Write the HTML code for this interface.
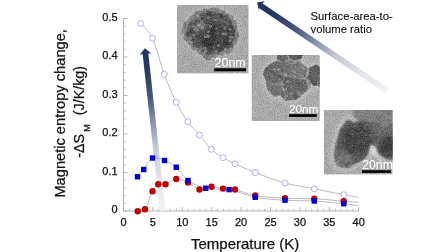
<!DOCTYPE html><html><head><meta charset="utf-8"><title>Magnetic entropy change</title>
<style>html,body{margin:0;padding:0;background:#fff;overflow:hidden}svg{display:block}text{font-family:"Liberation Sans",Arial,sans-serif;fill:#111;stroke:#111;stroke-width:0.25px}</style></head><body>
<svg width="448" height="252" viewBox="0 0 448 252">
<defs>
<linearGradient id="g1" gradientUnits="userSpaceOnUse" x1="144.9" y1="48.4" x2="162.7" y2="211"><stop offset="0" stop-color="#1f3460"/><stop offset="0.15" stop-color="#283a67"/><stop offset="0.3" stop-color="#48577d"/><stop offset="0.45" stop-color="#8891ab"/><stop offset="0.6" stop-color="#c2c7d5"/><stop offset="0.8" stop-color="#e2e5ec"/><stop offset="1" stop-color="#f1f2f6"/></linearGradient>
<linearGradient id="g2" gradientUnits="userSpaceOnUse" x1="256.9" y1="2.5" x2="387.6" y2="90.6"><stop offset="0" stop-color="#1f3460"/><stop offset="0.15" stop-color="#283a67"/><stop offset="0.3" stop-color="#48577d"/><stop offset="0.45" stop-color="#8891ab"/><stop offset="0.6" stop-color="#c2c7d5"/><stop offset="0.8" stop-color="#e2e5ec"/><stop offset="1" stop-color="#f1f2f6"/></linearGradient>
<filter id="noise" x="0" y="0" width="100%" height="100%"><feTurbulence type="fractalNoise" baseFrequency="1.1" numOctaves="2" seed="3" result="t"/><feColorMatrix in="t" type="matrix" values="0 0 0 0 0  0 0 0 0 0  0 0 0 0 0  1.6 1.6 0 0 -1.1"/><feGaussianBlur stdDeviation="0.35"/></filter>
<filter id="noisew" x="0" y="0" width="100%" height="100%"><feTurbulence type="fractalNoise" baseFrequency="1.1" numOctaves="2" seed="11" result="t"/><feColorMatrix in="t" type="matrix" values="0 0 0 0 1  0 0 0 0 1  0 0 0 0 1  1.6 0 1.6 0 -1.1"/><feGaussianBlur stdDeviation="0.35"/></filter>
<filter id="mott" x="-10%" y="-10%" width="120%" height="120%"><feTurbulence type="fractalNoise" baseFrequency="0.22" numOctaves="2" seed="5" result="t"/><feDisplacementMap in="SourceGraphic" in2="t" scale="5" xChannelSelector="R" yChannelSelector="G" result="d"/><feGaussianBlur in="d" stdDeviation="0.9"/></filter>
<filter id="b05" x="-10%" y="-10%" width="120%" height="120%"><feGaussianBlur stdDeviation="0.6"/></filter>
<filter id="b07" x="-10%" y="-10%" width="120%" height="120%"><feGaussianBlur stdDeviation="0.7"/></filter>
<filter id="b08" x="-10%" y="-10%" width="120%" height="120%"><feGaussianBlur stdDeviation="0.8"/></filter>
<filter id="b1" x="-20%" y="-20%" width="140%" height="140%"><feGaussianBlur stdDeviation="1.2"/></filter>
<filter id="b2" x="-20%" y="-20%" width="140%" height="140%"><feGaussianBlur stdDeviation="2.2"/></filter>
<clipPath id="c1"><rect x="177" y="5" width="71.6" height="68.5"/></clipPath>
<clipPath id="c2"><rect x="251.6" y="55" width="68.2" height="66"/></clipPath>
<clipPath id="c3"><rect x="323.8" y="110" width="68.8" height="64.6"/></clipPath>
</defs>
<rect width="448" height="252" fill="#fff"/>
<g stroke="#b4b4b4" stroke-width="1" fill="none" shape-rendering="auto">
<path d="M123.50 18.00 V211.00 H359.20"/>
<path d="M123.50 211.00 h4.0M123.50 203.30 h2.2M123.50 195.60 h2.2M123.50 187.90 h2.2M123.50 180.20 h2.2M123.50 172.50 h4.0M123.50 164.80 h2.2M123.50 157.10 h2.2M123.50 149.40 h2.2M123.50 141.70 h2.2M123.50 134.00 h4.0M123.50 126.30 h2.2M123.50 118.60 h2.2M123.50 110.90 h2.2M123.50 103.20 h2.2M123.50 95.50 h4.0M123.50 87.80 h2.2M123.50 80.10 h2.2M123.50 72.40 h2.2M123.50 64.70 h2.2M123.50 57.00 h4.0M123.50 49.30 h2.2M123.50 41.60 h2.2M123.50 33.90 h2.2M123.50 26.20 h2.2M123.50 18.50 h4.0M123.50 211.00 v-4.0M129.38 211.00 v-2.2M135.26 211.00 v-2.2M141.14 211.00 v-2.2M147.02 211.00 v-2.2M152.90 211.00 v-4.0M158.78 211.00 v-2.2M164.66 211.00 v-2.2M170.54 211.00 v-2.2M176.42 211.00 v-2.2M182.30 211.00 v-4.0M188.18 211.00 v-2.2M194.06 211.00 v-2.2M199.94 211.00 v-2.2M205.82 211.00 v-2.2M211.70 211.00 v-4.0M217.58 211.00 v-2.2M223.46 211.00 v-2.2M229.34 211.00 v-2.2M235.22 211.00 v-2.2M241.10 211.00 v-4.0M246.98 211.00 v-2.2M252.86 211.00 v-2.2M258.74 211.00 v-2.2M264.62 211.00 v-2.2M270.50 211.00 v-4.0M276.38 211.00 v-2.2M282.26 211.00 v-2.2M288.14 211.00 v-2.2M294.02 211.00 v-2.2M299.90 211.00 v-4.0M305.78 211.00 v-2.2M311.66 211.00 v-2.2M317.54 211.00 v-2.2M323.42 211.00 v-2.2M329.30 211.00 v-4.0M335.18 211.00 v-2.2M341.06 211.00 v-2.2M346.94 211.00 v-2.2M352.82 211.00 v-2.2M358.70 211.00 v-4.0"/>
</g>
<g font-size="11" text-anchor="end">
<text x="117.6" y="213.30">0</text>
<text x="117.6" y="174.80">0.1</text>
<text x="117.6" y="136.30">0.2</text>
<text x="117.6" y="97.80">0.3</text>
<text x="117.6" y="59.30">0.4</text>
<text x="117.6" y="20.80">0.5</text>
</g>
<g font-size="11" text-anchor="middle">
<text x="123.50" y="226.2">0</text>
<text x="152.90" y="226.2">5</text>
<text x="182.30" y="226.2">10</text>
<text x="211.70" y="226.2">15</text>
<text x="241.10" y="226.2">20</text>
<text x="270.50" y="226.2">25</text>
<text x="299.90" y="226.2">30</text>
<text x="329.30" y="226.2">35</text>
<text x="358.70" y="226.2">40</text>
</g>
<text x="191" y="248.9" font-size="15">Temperature (K)</text>
<text transform="translate(65.4 197.6) rotate(-90)" font-size="14.65">Magnetic entropy change,</text>
<text transform="translate(83.8 157.8) rotate(-90)" font-size="14.3"><tspan x="0">-ΔS</tspan><tspan x="26" dy="6.3" font-size="9">M</tspan><tspan x="42.6" dy="-6.3">(J/K/kg)</tspan></text>
<clipPath id="p1c"><polygon points="214.0,9.0 224.0,11.0 232.0,17.0 237.0,25.0 238.0,33.0 236.5,41.0 231.0,51.0 222.0,54.5 215.0,55.5 208.0,58.5 203.0,56.0 196.0,50.0 189.0,44.0 185.0,38.0 183.4,31.5 185.0,24.0 190.0,17.0 197.0,12.5 205.0,10.0"/></clipPath>
<g clip-path="url(#c1)">
<rect x="177.0" y="5.0" width="71.6" height="68.5" fill="#b2b2b2"/>
<polygon points="214.0,9.0 224.0,11.0 232.0,17.0 237.0,25.0 238.0,33.0 236.5,41.0 231.0,51.0 222.0,54.5 215.0,55.5 208.0,58.5 203.0,56.0 196.0,50.0 189.0,44.0 185.0,38.0 183.4,31.5 185.0,24.0 190.0,17.0 197.0,12.5 205.0,10.0" fill="#c8c8c8" stroke="#c8c8c8" stroke-width="4" stroke-linejoin="round" filter="url(#b2)"/>
<g filter="url(#b05)">
<circle cx="213.9" cy="9.8" r="2.6" fill="#8a8a8a"/><circle cx="216.9" cy="11.1" r="3.0" fill="#7d7d7d"/><circle cx="220.1" cy="11.7" r="2.2" fill="#909090"/><circle cx="223.2" cy="12.3" r="2.0" fill="#707070"/><circle cx="225.2" cy="14.8" r="2.1" fill="#8b8b8b"/><circle cx="227.8" cy="16.4" r="2.9" fill="#7e7e7e"/><circle cx="230.5" cy="18.1" r="3.0" fill="#8b8b8b"/><circle cx="232.0" cy="20.7" r="2.6" fill="#8a8a8a"/><circle cx="234.8" cy="22.6" r="2.5" fill="#858585"/><circle cx="235.2" cy="25.6" r="2.0" fill="#878787"/><circle cx="235.4" cy="28.1" r="2.1" fill="#757575"/><circle cx="235.3" cy="30.6" r="2.2" fill="#8d8d8d"/><circle cx="236.0" cy="33.0" r="2.5" fill="#898989"/><circle cx="236.6" cy="35.6" r="2.5" fill="#727272"/><circle cx="234.9" cy="38.0" r="2.8" fill="#747474"/><circle cx="235.6" cy="40.8" r="2.1" fill="#747474"/><circle cx="233.8" cy="43.0" r="2.2" fill="#888888"/><circle cx="231.7" cy="44.9" r="2.4" fill="#929292"/><circle cx="231.4" cy="47.8" r="2.5" fill="#8c8c8c"/><circle cx="230.1" cy="50.3" r="2.4" fill="#8f8f8f"/><circle cx="227.6" cy="51.8" r="2.2" fill="#757575"/><circle cx="223.8" cy="51.8" r="2.0" fill="#8f8f8f"/><circle cx="221.7" cy="53.9" r="2.2" fill="#919191"/><circle cx="217.9" cy="53.4" r="2.2" fill="#777777"/><circle cx="214.8" cy="54.7" r="2.8" fill="#868686"/><circle cx="211.4" cy="55.8" r="2.2" fill="#838383"/><circle cx="208.1" cy="57.7" r="2.8" fill="#7b7b7b"/><circle cx="205.7" cy="56.0" r="2.7" fill="#727272"/><circle cx="203.7" cy="53.8" r="2.4" fill="#7f7f7f"/><circle cx="201.7" cy="51.7" r="2.9" fill="#707070"/><circle cx="199.1" cy="50.8" r="2.7" fill="#888888"/><circle cx="197.5" cy="48.2" r="2.2" fill="#7f7f7f"/><circle cx="194.1" cy="47.6" r="2.8" fill="#8a8a8a"/><circle cx="192.6" cy="45.2" r="2.1" fill="#828282"/><circle cx="189.9" cy="43.6" r="2.0" fill="#828282"/><circle cx="187.9" cy="40.7" r="2.1" fill="#898989"/><circle cx="186.2" cy="37.8" r="3.0" fill="#797979"/><circle cx="186.2" cy="34.7" r="2.0" fill="#8e8e8e"/><circle cx="184.2" cy="31.6" r="2.9" fill="#919191"/><circle cx="185.6" cy="28.1" r="2.9" fill="#7d7d7d"/><circle cx="186.1" cy="24.4" r="2.9" fill="#797979"/><circle cx="188.2" cy="22.4" r="2.5" fill="#8b8b8b"/><circle cx="190.3" cy="20.6" r="2.3" fill="#8e8e8e"/><circle cx="191.2" cy="18.0" r="2.1" fill="#818181"/><circle cx="193.7" cy="16.9" r="2.7" fill="#888888"/><circle cx="196.2" cy="15.9" r="2.3" fill="#717171"/><circle cx="197.6" cy="13.5" r="2.9" fill="#7f7f7f"/><circle cx="200.4" cy="13.2" r="2.7" fill="#808080"/><circle cx="203.0" cy="12.7" r="2.1" fill="#787878"/><circle cx="205.1" cy="10.7" r="2.2" fill="#767676"/><circle cx="208.2" cy="11.4" r="2.1" fill="#797979"/><circle cx="211.0" cy="10.1" r="2.1" fill="#828282"/>
<polygon points="213.5,12.0 222.3,13.7 229.4,19.0 233.8,26.0 234.6,33.1 233.3,40.1 228.5,48.9 220.6,52.0 214.4,52.9 208.2,55.5 203.8,53.3 197.7,48.0 191.5,42.8 188.0,37.5 186.6,31.8 188.0,25.2 192.4,19.0 198.6,15.0 205.6,12.8" fill="#505050"/>
</g>
<g clip-path="url(#p1c)"><ellipse cx="215" cy="37" rx="16" ry="14" fill="#2e2e2e" filter="url(#b2)" opacity="0.85"/><ellipse cx="197" cy="24" rx="9" ry="8" fill="#8a8a8a" filter="url(#b2)" opacity="0.7"/><ellipse cx="226" cy="18" rx="7" ry="5" fill="#808080" filter="url(#b2)" opacity="0.6"/></g>
<g filter="url(#b05)">
<g opacity="0.60"><circle cx="202.2" cy="18.5" r="1.6" fill="#1a1a1a"/><circle cx="212.3" cy="27.9" r="2.9" fill="#1b1b1b"/><circle cx="206.7" cy="22.4" r="2.1" fill="#5a5a5a"/><circle cx="226.3" cy="17.3" r="2.4" fill="#303030"/><circle cx="214.6" cy="14.6" r="1.6" fill="#464646"/><circle cx="197.2" cy="36.2" r="1.9" fill="#252525"/><circle cx="201.4" cy="47.5" r="1.7" fill="#2b2b2b"/><circle cx="214.0" cy="20.1" r="2.3" fill="#202020"/><circle cx="196.5" cy="41.6" r="2.7" fill="#4a4a4a"/><circle cx="209.0" cy="52.2" r="1.9" fill="#424242"/><circle cx="224.8" cy="42.4" r="1.6" fill="#333333"/><circle cx="201.0" cy="33.5" r="2.6" fill="#3f3f3f"/><circle cx="192.3" cy="30.2" r="1.7" fill="#3f3f3f"/><circle cx="210.1" cy="13.7" r="2.6" fill="#1d1d1d"/><circle cx="214.1" cy="50.1" r="2.0" fill="#3c3c3c"/><circle cx="203.4" cy="33.6" r="1.6" fill="#4e4e4e"/><circle cx="191.1" cy="23.7" r="1.6" fill="#1c1c1c"/><circle cx="220.3" cy="40.1" r="1.9" fill="#4d4d4d"/><circle cx="205.1" cy="41.1" r="2.9" fill="#161616"/><circle cx="203.7" cy="38.6" r="1.6" fill="#535353"/><circle cx="223.5" cy="17.6" r="2.1" fill="#333333"/><circle cx="230.6" cy="33.6" r="2.2" fill="#292929"/><circle cx="213.0" cy="50.4" r="2.8" fill="#4b4b4b"/><circle cx="200.0" cy="30.0" r="2.5" fill="#414141"/><circle cx="204.9" cy="22.0" r="1.8" fill="#1e1e1e"/><circle cx="197.7" cy="22.1" r="2.7" fill="#525252"/><circle cx="195.4" cy="24.2" r="2.1" fill="#262626"/><circle cx="204.3" cy="36.6" r="2.5" fill="#242424"/><circle cx="211.4" cy="38.9" r="2.2" fill="#1a1a1a"/><circle cx="219.3" cy="36.3" r="2.1" fill="#464646"/><circle cx="191.6" cy="39.6" r="1.8" fill="#1b1b1b"/><circle cx="233.9" cy="31.1" r="2.0" fill="#222222"/><circle cx="228.6" cy="38.7" r="2.5" fill="#272727"/><circle cx="232.5" cy="38.2" r="1.7" fill="#505050"/><circle cx="209.0" cy="33.0" r="1.7" fill="#1e1e1e"/><circle cx="222.6" cy="44.2" r="2.7" fill="#515151"/><circle cx="232.3" cy="35.0" r="2.5" fill="#262626"/><circle cx="230.5" cy="45.0" r="3.0" fill="#3a3a3a"/><circle cx="228.1" cy="42.3" r="2.3" fill="#353535"/><circle cx="230.2" cy="27.4" r="2.3" fill="#303030"/><circle cx="224.0" cy="26.3" r="2.4" fill="#303030"/><circle cx="224.5" cy="45.0" r="2.7" fill="#2c2c2c"/><circle cx="225.9" cy="44.2" r="1.8" fill="#313131"/><circle cx="210.3" cy="43.8" r="2.7" fill="#171717"/><circle cx="209.3" cy="20.4" r="2.2" fill="#404040"/><circle cx="232.5" cy="27.8" r="1.7" fill="#303030"/><circle cx="209.2" cy="26.7" r="2.4" fill="#515151"/><circle cx="209.6" cy="40.4" r="2.8" fill="#1e1e1e"/><circle cx="192.4" cy="28.9" r="2.2" fill="#2d2d2d"/><circle cx="202.6" cy="46.8" r="2.2" fill="#464646"/><circle cx="222.3" cy="15.7" r="1.8" fill="#282828"/><circle cx="203.4" cy="35.9" r="1.5" fill="#242424"/><circle cx="225.0" cy="43.6" r="2.3" fill="#212121"/><circle cx="231.5" cy="30.8" r="2.7" fill="#2c2c2c"/><circle cx="196.7" cy="22.9" r="2.3" fill="#393939"/><circle cx="223.3" cy="26.2" r="2.1" fill="#595959"/><circle cx="203.6" cy="31.9" r="2.1" fill="#565656"/><circle cx="230.7" cy="33.8" r="1.7" fill="#585858"/><circle cx="211.1" cy="50.0" r="2.4" fill="#2b2b2b"/><circle cx="223.9" cy="18.5" r="2.2" fill="#262626"/><circle cx="221.4" cy="36.2" r="2.5" fill="#3d3d3d"/><circle cx="212.1" cy="33.0" r="2.8" fill="#212121"/><circle cx="208.3" cy="13.2" r="2.2" fill="#1c1c1c"/><circle cx="216.0" cy="34.0" r="1.8" fill="#555555"/><circle cx="199.9" cy="34.1" r="2.3" fill="#515151"/><circle cx="198.5" cy="34.7" r="2.9" fill="#353535"/><circle cx="229.5" cy="20.8" r="1.7" fill="#4d4d4d"/><circle cx="192.4" cy="31.2" r="2.5" fill="#1d1d1d"/><circle cx="207.2" cy="21.2" r="2.7" fill="#3a3a3a"/><circle cx="221.0" cy="40.7" r="1.9" fill="#262626"/><circle cx="193.2" cy="32.3" r="2.1" fill="#202020"/><circle cx="226.6" cy="19.0" r="3.0" fill="#4b4b4b"/><circle cx="206.0" cy="30.3" r="2.0" fill="#414141"/><circle cx="213.2" cy="31.1" r="2.1" fill="#161616"/><circle cx="211.5" cy="24.8" r="1.7" fill="#1c1c1c"/><circle cx="230.7" cy="21.9" r="1.6" fill="#212121"/><circle cx="195.3" cy="44.9" r="2.8" fill="#4a4a4a"/><circle cx="206.1" cy="35.3" r="2.4" fill="#555555"/><circle cx="220.3" cy="15.8" r="2.7" fill="#1b1b1b"/><circle cx="190.9" cy="23.3" r="1.6" fill="#303030"/><circle cx="228.1" cy="31.7" r="3.0" fill="#3f3f3f"/><circle cx="206.7" cy="51.8" r="1.6" fill="#242424"/><circle cx="216.8" cy="35.1" r="1.9" fill="#2e2e2e"/><circle cx="210.6" cy="19.7" r="2.7" fill="#404040"/><circle cx="187.5" cy="34.0" r="2.3" fill="#2c2c2c"/><circle cx="198.4" cy="31.4" r="2.5" fill="#4b4b4b"/><circle cx="212.8" cy="50.7" r="2.0" fill="#545454"/><circle cx="196.9" cy="22.0" r="2.7" fill="#2d2d2d"/><circle cx="220.6" cy="39.7" r="3.0" fill="#474747"/><circle cx="228.9" cy="30.7" r="1.6" fill="#1b1b1b"/></g>
<g opacity="0.60"><circle cx="192.7" cy="42.7" r="1.0" fill="#919191"/><circle cx="225.6" cy="34.0" r="1.5" fill="#a5a5a5"/><circle cx="208.7" cy="31.7" r="1.4" fill="#ababab"/><circle cx="229.7" cy="29.5" r="1.1" fill="#ababab"/><circle cx="206.2" cy="51.2" r="1.6" fill="#a4a4a4"/><circle cx="218.5" cy="16.2" r="1.0" fill="#c0c0c0"/><circle cx="216.4" cy="28.4" r="1.0" fill="#b6b6b6"/><circle cx="197.9" cy="15.7" r="1.5" fill="#c5c5c5"/><circle cx="229.9" cy="37.3" r="1.4" fill="#959595"/><circle cx="212.5" cy="13.6" r="1.1" fill="#b8b8b8"/><circle cx="232.1" cy="37.2" r="1.4" fill="#bababa"/><circle cx="208.0" cy="36.2" r="1.7" fill="#c2c2c2"/><circle cx="191.3" cy="42.0" r="1.2" fill="#b8b8b8"/><circle cx="217.5" cy="33.5" r="1.1" fill="#b3b3b3"/><circle cx="193.8" cy="35.0" r="1.5" fill="#acacac"/><circle cx="225.4" cy="49.3" r="1.5" fill="#c6c6c6"/><circle cx="197.2" cy="22.6" r="1.2" fill="#8c8c8c"/><circle cx="198.8" cy="24.9" r="1.7" fill="#b9b9b9"/><circle cx="195.0" cy="29.2" r="1.7" fill="#969696"/><circle cx="204.9" cy="48.4" r="1.3" fill="#b0b0b0"/><circle cx="197.7" cy="29.8" r="1.3" fill="#a8a8a8"/><circle cx="218.5" cy="45.2" r="1.2" fill="#adadad"/><circle cx="225.4" cy="33.9" r="1.0" fill="#b9b9b9"/><circle cx="215.6" cy="20.2" r="1.0" fill="#c6c6c6"/><circle cx="205.2" cy="36.9" r="1.2" fill="#bbbbbb"/><circle cx="202.2" cy="27.9" r="1.7" fill="#b5b5b5"/><circle cx="214.5" cy="19.7" r="1.3" fill="#a7a7a7"/><circle cx="190.6" cy="38.3" r="1.6" fill="#ababab"/><circle cx="224.6" cy="28.6" r="1.4" fill="#929292"/><circle cx="208.3" cy="17.5" r="1.4" fill="#a8a8a8"/><circle cx="213.7" cy="47.5" r="1.1" fill="#a9a9a9"/><circle cx="196.1" cy="31.4" r="1.1" fill="#929292"/><circle cx="230.2" cy="40.5" r="1.3" fill="#c1c1c1"/><circle cx="222.9" cy="33.8" r="1.4" fill="#b9b9b9"/><circle cx="210.7" cy="26.1" r="1.6" fill="#a4a4a4"/><circle cx="216.1" cy="51.5" r="1.2" fill="#bbbbbb"/><circle cx="230.2" cy="29.5" r="1.2" fill="#b4b4b4"/><circle cx="204.3" cy="53.0" r="1.2" fill="#c2c2c2"/><circle cx="201.1" cy="48.2" r="1.6" fill="#a2a2a2"/><circle cx="200.8" cy="48.8" r="1.3" fill="#989898"/></g>
</g>
<rect x="177.0" y="5.0" width="71.6" height="68.5" fill="#000" filter="url(#noise)" opacity="0.21"/>
<rect x="177.0" y="5.0" width="71.6" height="68.5" fill="#fff" filter="url(#noisew)" opacity="0.21"/>
</g>
<g clip-path="url(#c2)">
<rect x="251.6" y="55.0" width="68.2" height="66.0" fill="#b4b4b4"/>
<polygon points="263.5,74.0 265.8,68.8 274.4,61.8 278.0,59.0 277.6,55.6 286.0,54.8 302.6,54.8 301.0,58.0 301.0,63.4 306.5,68.0 309.6,68.0 316.6,65.0 320.5,68.0 320.5,85.3 311.2,85.0 308.8,90.0 301.0,95.5 296.3,99.4 285.4,100.2 280.7,95.5 274.4,97.0 267.4,89.3 266.0,82.0" fill="#d2d2d2" stroke="#d2d2d2" stroke-width="5" stroke-linejoin="round" filter="url(#b2)"/>
<g filter="url(#b07)"><polygon points="263.5,74.0 265.8,68.8 274.4,61.8 278.0,59.0 277.6,55.6 286.0,54.8 302.6,54.8 301.0,58.0 301.0,63.4 306.5,68.0 309.6,68.0 316.6,65.0 320.5,68.0 320.5,85.3 311.2,85.0 308.8,90.0 301.0,95.5 296.3,99.4 285.4,100.2 280.7,95.5 274.4,97.0 267.4,89.3 266.0,82.0" fill="#9c9c9c"/>
<polygon points="265.8,68.8 274.4,61.8 284.6,62.6 287.7,69.6 284.6,77.4 274.4,83.7 266.6,80.6 263.5,74.3" fill="#6c6c6c" stroke="#6c6c6c" stroke-width="1.1" stroke-linejoin="round"/>
<polygon points="277.6,55.6 286.2,54.8 287.7,58.7 282.3,61.0 277.6,58.7" fill="#606060" stroke="#606060" stroke-width="1.1" stroke-linejoin="round"/>
<polygon points="289.3,54.8 302.6,54.8 301.0,57.9 294.8,59.5 290.0,57.9" fill="#505050" stroke="#505050" stroke-width="1.1" stroke-linejoin="round"/>
<polygon points="294.0,65.0 301.0,63.4 306.5,68.0 305.7,75.9 297.9,77.4 293.2,72.8" fill="#747474" stroke="#747474" stroke-width="1.1" stroke-linejoin="round"/>
<polygon points="309.6,68.0 316.6,65.0 320.5,68.0 320.5,85.3 313.5,85.3 308.8,77.4" fill="#5e5e5e" stroke="#5e5e5e" stroke-width="1.1" stroke-linejoin="round"/>
<polygon points="287.0,77.4 298.0,79.0 305.7,80.6 307.3,88.4 298.0,93.0 285.4,91.5 282.3,83.7" fill="#646464" stroke="#646464" stroke-width="1.1" stroke-linejoin="round"/>
<polygon points="266.6,82.1 276.0,85.3 282.3,85.3 280.7,93.0 274.4,96.0 267.4,89.3" fill="#727272" stroke="#727272" stroke-width="1.1" stroke-linejoin="round"/>
<polygon points="282.0,92.0 298.0,93.5 301.0,95.5 296.3,99.4 285.4,100.2 281.0,95.5" fill="#6e6e6e" stroke="#6e6e6e" stroke-width="1.1" stroke-linejoin="round"/>
<polygon points="286.0,62.0 293.0,61.0 294.0,66.0 292.0,74.0 288.0,76.0 287.0,69.0" fill="#787878" stroke="#787878" stroke-width="1.1" stroke-linejoin="round"/>
<g opacity="0.36"><circle cx="277.1" cy="79.5" r="2.3" fill="#4d4d4d"/><circle cx="290.5" cy="81.2" r="2.3" fill="#1f1f1f"/><circle cx="290.2" cy="79.8" r="2.4" fill="#363636"/><circle cx="290.3" cy="92.8" r="1.7" fill="#5a5a5a"/><circle cx="285.7" cy="55.5" r="1.4" fill="#262626"/><circle cx="278.9" cy="81.8" r="2.1" fill="#4f4f4f"/><circle cx="316.0" cy="72.7" r="2.4" fill="#565656"/><circle cx="271.1" cy="71.4" r="1.4" fill="#222222"/><circle cx="288.4" cy="83.2" r="1.7" fill="#444444"/><circle cx="311.0" cy="80.9" r="1.9" fill="#626262"/><circle cx="296.8" cy="95.9" r="2.2" fill="#212121"/><circle cx="320.0" cy="85.3" r="2.0" fill="#323232"/><circle cx="282.1" cy="79.4" r="2.1" fill="#2b2b2b"/><circle cx="275.5" cy="92.6" r="1.5" fill="#404040"/><circle cx="309.1" cy="73.4" r="1.2" fill="#313131"/><circle cx="287.8" cy="73.6" r="1.3" fill="#2d2d2d"/><circle cx="298.5" cy="56.8" r="1.9" fill="#484848"/><circle cx="316.0" cy="67.5" r="2.4" fill="#3c3c3c"/><circle cx="281.2" cy="58.3" r="1.2" fill="#626262"/><circle cx="274.8" cy="73.3" r="1.4" fill="#3f3f3f"/><circle cx="314.6" cy="72.0" r="2.2" fill="#585858"/><circle cx="285.5" cy="94.2" r="1.9" fill="#2b2b2b"/><circle cx="317.1" cy="77.8" r="2.0" fill="#555555"/><circle cx="288.4" cy="66.5" r="1.9" fill="#444444"/><circle cx="264.2" cy="73.7" r="1.2" fill="#464646"/><circle cx="298.6" cy="83.5" r="2.0" fill="#252525"/><circle cx="282.4" cy="70.8" r="1.9" fill="#4b4b4b"/><circle cx="279.4" cy="77.0" r="2.3" fill="#252525"/><circle cx="264.7" cy="71.6" r="1.6" fill="#585858"/><circle cx="297.8" cy="62.9" r="1.6" fill="#353535"/><circle cx="284.5" cy="81.8" r="2.1" fill="#444444"/><circle cx="271.0" cy="77.5" r="1.5" fill="#404040"/><circle cx="274.2" cy="74.6" r="1.3" fill="#2a2a2a"/><circle cx="281.9" cy="70.0" r="1.7" fill="#3a3a3a"/><circle cx="282.7" cy="84.3" r="1.5" fill="#575757"/><circle cx="318.1" cy="69.1" r="2.2" fill="#353535"/><circle cx="282.9" cy="92.4" r="2.2" fill="#282828"/><circle cx="283.2" cy="60.7" r="1.8" fill="#434343"/><circle cx="311.9" cy="75.9" r="1.5" fill="#535353"/><circle cx="295.9" cy="56.4" r="1.4" fill="#525252"/><circle cx="288.3" cy="97.9" r="1.2" fill="#3a3a3a"/><circle cx="289.5" cy="89.0" r="2.4" fill="#606060"/><circle cx="294.5" cy="95.2" r="2.2" fill="#262626"/><circle cx="309.3" cy="78.1" r="2.3" fill="#373737"/><circle cx="314.8" cy="81.0" r="1.8" fill="#1f1f1f"/><circle cx="270.4" cy="77.6" r="2.0" fill="#3c3c3c"/><circle cx="293.4" cy="73.6" r="1.6" fill="#2c2c2c"/><circle cx="277.9" cy="93.9" r="2.2" fill="#5b5b5b"/><circle cx="270.3" cy="65.7" r="2.3" fill="#414141"/><circle cx="279.0" cy="67.0" r="1.8" fill="#616161"/><circle cx="266.4" cy="69.5" r="2.2" fill="#1e1e1e"/><circle cx="266.3" cy="76.7" r="2.2" fill="#222222"/><circle cx="268.4" cy="77.6" r="1.4" fill="#464646"/><circle cx="267.6" cy="72.3" r="1.9" fill="#4f4f4f"/><circle cx="284.1" cy="63.5" r="1.7" fill="#484848"/><circle cx="304.7" cy="90.9" r="1.3" fill="#343434"/><circle cx="289.8" cy="84.3" r="1.7" fill="#636363"/><circle cx="309.2" cy="83.1" r="1.3" fill="#555555"/><circle cx="299.3" cy="89.3" r="1.7" fill="#464646"/><circle cx="303.1" cy="75.7" r="1.5" fill="#3d3d3d"/><circle cx="278.9" cy="81.6" r="1.5" fill="#545454"/><circle cx="295.4" cy="94.3" r="1.8" fill="#2d2d2d"/><circle cx="270.5" cy="91.7" r="2.2" fill="#616161"/><circle cx="301.6" cy="88.1" r="1.3" fill="#626262"/><circle cx="297.0" cy="55.0" r="1.5" fill="#303030"/><circle cx="285.7" cy="78.7" r="2.0" fill="#2a2a2a"/><circle cx="284.9" cy="92.0" r="2.2" fill="#494949"/><circle cx="301.9" cy="92.8" r="1.9" fill="#424242"/><circle cx="307.2" cy="78.0" r="1.3" fill="#3c3c3c"/><circle cx="267.0" cy="69.5" r="2.2" fill="#353535"/><circle cx="277.3" cy="63.0" r="1.7" fill="#3d3d3d"/><circle cx="277.9" cy="82.0" r="1.9" fill="#4a4a4a"/><circle cx="318.6" cy="71.8" r="2.4" fill="#3c3c3c"/><circle cx="287.0" cy="88.7" r="1.7" fill="#323232"/><circle cx="295.9" cy="81.1" r="2.0" fill="#606060"/><circle cx="272.4" cy="73.0" r="1.4" fill="#313131"/><circle cx="291.9" cy="76.8" r="2.3" fill="#606060"/><circle cx="296.9" cy="93.8" r="1.5" fill="#2f2f2f"/><circle cx="274.9" cy="81.4" r="2.3" fill="#464646"/><circle cx="312.0" cy="79.2" r="2.0" fill="#434343"/><circle cx="312.3" cy="81.8" r="2.3" fill="#404040"/><circle cx="281.0" cy="67.0" r="1.4" fill="#4e4e4e"/><circle cx="296.0" cy="65.6" r="2.1" fill="#5b5b5b"/><circle cx="290.8" cy="82.0" r="1.9" fill="#595959"/><circle cx="314.9" cy="84.4" r="1.8" fill="#212121"/><circle cx="286.3" cy="88.1" r="1.8" fill="#232323"/><circle cx="276.6" cy="65.5" r="2.4" fill="#262626"/><circle cx="274.3" cy="66.5" r="1.9" fill="#353535"/><circle cx="270.2" cy="66.8" r="1.2" fill="#434343"/><circle cx="289.3" cy="88.1" r="1.2" fill="#494949"/></g>
<g opacity="0.45"><circle cx="286.1" cy="61.8" r="0.8" fill="#9a9a9a"/><circle cx="294.8" cy="67.9" r="0.8" fill="#c6c6c6"/><circle cx="293.2" cy="71.2" r="0.9" fill="#c7c7c7"/><circle cx="274.5" cy="68.9" r="1.5" fill="#bebebe"/><circle cx="284.7" cy="93.2" r="1.3" fill="#ababab"/><circle cx="292.3" cy="62.9" r="1.0" fill="#b4b4b4"/><circle cx="303.7" cy="69.0" r="1.2" fill="#c6c6c6"/><circle cx="287.1" cy="82.0" r="1.2" fill="#b1b1b1"/><circle cx="276.8" cy="66.6" r="0.8" fill="#c9c9c9"/><circle cx="279.5" cy="79.1" r="1.4" fill="#b4b4b4"/><circle cx="271.8" cy="85.4" r="1.1" fill="#9a9a9a"/><circle cx="275.1" cy="83.5" r="0.9" fill="#a7a7a7"/><circle cx="288.3" cy="81.5" r="1.2" fill="#bebebe"/><circle cx="307.1" cy="82.7" r="0.9" fill="#a5a5a5"/><circle cx="316.8" cy="68.0" r="0.8" fill="#979797"/><circle cx="307.7" cy="73.4" r="1.5" fill="#d2d2d2"/><circle cx="298.7" cy="95.4" r="0.9" fill="#a8a8a8"/><circle cx="285.3" cy="98.5" r="1.3" fill="#ababab"/><circle cx="284.2" cy="75.4" r="1.4" fill="#adadad"/><circle cx="284.2" cy="68.0" r="1.2" fill="#9c9c9c"/><circle cx="275.3" cy="96.4" r="0.8" fill="#9d9d9d"/><circle cx="265.8" cy="77.1" r="1.1" fill="#a5a5a5"/><circle cx="300.6" cy="63.9" r="1.0" fill="#a2a2a2"/><circle cx="286.9" cy="56.5" r="1.2" fill="#b0b0b0"/><circle cx="300.4" cy="74.2" r="1.2" fill="#a3a3a3"/><circle cx="277.3" cy="64.2" r="1.1" fill="#a4a4a4"/><circle cx="278.4" cy="69.6" r="1.5" fill="#cfcfcf"/><circle cx="286.5" cy="95.7" r="1.5" fill="#bfbfbf"/><circle cx="285.6" cy="74.3" r="1.5" fill="#d1d1d1"/><circle cx="282.7" cy="84.6" r="1.5" fill="#c9c9c9"/><circle cx="281.5" cy="73.9" r="1.3" fill="#a3a3a3"/><circle cx="302.6" cy="67.0" r="1.1" fill="#d1d1d1"/><circle cx="291.8" cy="93.8" r="1.6" fill="#a7a7a7"/><circle cx="318.7" cy="85.1" r="1.5" fill="#999999"/><circle cx="302.7" cy="75.9" r="1.4" fill="#b4b4b4"/><circle cx="270.1" cy="91.6" r="1.1" fill="#c8c8c8"/><circle cx="298.2" cy="92.0" r="1.4" fill="#b9b9b9"/><circle cx="290.4" cy="78.7" r="0.9" fill="#979797"/><circle cx="295.5" cy="66.5" r="0.9" fill="#c7c7c7"/><circle cx="284.2" cy="89.6" r="1.5" fill="#b7b7b7"/><circle cx="280.4" cy="70.5" r="0.9" fill="#9a9a9a"/><circle cx="294.5" cy="72.1" r="1.6" fill="#c8c8c8"/><circle cx="285.7" cy="89.2" r="1.6" fill="#cccccc"/><circle cx="298.9" cy="95.0" r="1.6" fill="#b6b6b6"/><circle cx="287.2" cy="87.1" r="0.9" fill="#b2b2b2"/><circle cx="280.7" cy="92.8" r="0.9" fill="#b1b1b1"/><circle cx="295.3" cy="71.7" r="0.9" fill="#a0a0a0"/><circle cx="272.0" cy="77.2" r="1.0" fill="#ababab"/><circle cx="273.1" cy="84.2" r="1.2" fill="#9d9d9d"/><circle cx="291.2" cy="87.3" r="1.2" fill="#b4b4b4"/></g>
</g>
<rect x="251.6" y="55.0" width="68.2" height="66.0" fill="#000" filter="url(#noise)" opacity="0.21"/>
<rect x="251.6" y="55.0" width="68.2" height="66.0" fill="#fff" filter="url(#noisew)" opacity="0.21"/>
</g>
<clipPath id="r3"><polygon points="377.0,129.6 389.7,123.3 395.0,123.3 395.0,160.8 386.5,159.2 378.6,152.9 375.4,146.5 378.0,141.0"/></clipPath>
<g clip-path="url(#c3)">
<rect x="323.8" y="110.0" width="68.8" height="64.6" fill="#b2b2b2"/>
<polygon points="346.8,120.0 349.0,119.5 352.0,121.5 355.0,122.0 359.0,119.8 362.0,120.0 366.7,124.0 370.0,128.0 373.8,132.8 377.8,139.2 375.4,143.0 370.6,143.5 369.8,148.0 368.2,154.5 364.3,159.2 357.0,163.2 348.4,168.0 340.5,167.2 335.7,164.0 334.1,156.0 334.9,147.0 337.3,137.6 340.5,128.0" fill="#d8d8d8" stroke="#d8d8d8" stroke-width="6" stroke-linejoin="round" filter="url(#b2)"/>
<polygon points="377.0,129.6 389.7,123.3 395.0,123.3 395.0,160.8 386.5,159.2 378.6,152.9 375.4,146.5 378.0,141.0" fill="#d0d0d0" stroke="#d0d0d0" stroke-width="3" stroke-linejoin="round" filter="url(#b2)"/>
<g filter="url(#b08)"><polygon points="351.6,109.0 395.0,109.0 395.0,123.3 375.4,126.5 367.4,121.7 354.7,118.5" fill="#808080"/>
<polygon points="360.0,120.0 372.0,121.0 382.0,124.0 383.0,140.0 376.0,147.0 370.0,145.0" fill="#5e5e5e"/>
<polygon points="377.0,129.6 389.7,123.3 395.0,123.3 395.0,160.8 386.5,159.2 378.6,152.9 375.4,146.5 378.0,141.0" fill="#666666"/>
<polygon points="346.8,120.0 349.0,119.5 352.0,121.5 355.0,122.0 359.0,119.8 362.0,120.0 366.7,124.0 370.0,128.0 373.8,132.8 377.8,139.2 375.4,143.0 370.6,143.5 369.8,148.0 368.2,154.5 364.3,159.2 357.0,163.2 348.4,168.0 340.5,167.2 335.7,164.0 334.1,156.0 334.9,147.0 337.3,137.6 340.5,128.0" fill="#565656"/>
</g>
<g clip-path="url(#m3)"><ellipse cx="356" cy="140" rx="14" ry="15" fill="#303030" filter="url(#b2)" opacity="0.85"/><ellipse cx="343" cy="160" rx="9" ry="8" fill="#808080" filter="url(#b2)" opacity="0.8"/>
<g filter="url(#b05)"><g opacity="0.35"><circle cx="361.3" cy="155.5" r="2.3" fill="#1c1c1c"/><circle cx="368.0" cy="131.6" r="2.4" fill="#1f1f1f"/><circle cx="339.0" cy="142.2" r="1.6" fill="#383838"/><circle cx="366.1" cy="139.3" r="2.5" fill="#303030"/><circle cx="367.6" cy="127.2" r="1.2" fill="#222222"/><circle cx="361.1" cy="125.6" r="2.6" fill="#191919"/><circle cx="334.3" cy="157.0" r="2.4" fill="#2e2e2e"/><circle cx="346.7" cy="166.1" r="1.3" fill="#333333"/><circle cx="376.3" cy="138.1" r="1.6" fill="#1b1b1b"/><circle cx="363.7" cy="135.9" r="1.6" fill="#404040"/><circle cx="347.5" cy="153.3" r="1.8" fill="#303030"/><circle cx="334.9" cy="157.7" r="1.6" fill="#474747"/><circle cx="370.9" cy="141.5" r="2.0" fill="#303030"/><circle cx="344.9" cy="159.2" r="1.6" fill="#545454"/><circle cx="349.6" cy="144.9" r="1.2" fill="#545454"/><circle cx="349.0" cy="149.1" r="1.5" fill="#2b2b2b"/><circle cx="347.8" cy="134.9" r="2.3" fill="#2f2f2f"/><circle cx="361.5" cy="154.5" r="2.6" fill="#404040"/><circle cx="351.8" cy="131.0" r="2.3" fill="#454545"/><circle cx="354.0" cy="140.0" r="2.6" fill="#202020"/><circle cx="362.0" cy="158.4" r="2.3" fill="#434343"/><circle cx="339.8" cy="155.0" r="2.0" fill="#292929"/><circle cx="353.1" cy="126.7" r="1.5" fill="#4e4e4e"/><circle cx="353.9" cy="143.2" r="1.8" fill="#414141"/><circle cx="346.8" cy="139.1" r="1.2" fill="#2b2b2b"/><circle cx="370.0" cy="145.3" r="2.0" fill="#2f2f2f"/><circle cx="355.9" cy="135.9" r="1.8" fill="#242424"/><circle cx="356.6" cy="146.1" r="1.6" fill="#595959"/><circle cx="364.5" cy="151.7" r="1.6" fill="#404040"/><circle cx="364.9" cy="133.1" r="1.4" fill="#575757"/><circle cx="341.9" cy="160.8" r="1.9" fill="#555555"/><circle cx="345.1" cy="152.1" r="1.5" fill="#545454"/><circle cx="356.0" cy="152.2" r="1.6" fill="#464646"/><circle cx="362.2" cy="155.3" r="1.6" fill="#4d4d4d"/><circle cx="357.2" cy="127.6" r="2.5" fill="#474747"/><circle cx="355.0" cy="153.0" r="1.3" fill="#4e4e4e"/><circle cx="368.2" cy="147.7" r="1.5" fill="#4e4e4e"/><circle cx="358.3" cy="161.6" r="2.2" fill="#3b3b3b"/><circle cx="353.4" cy="151.0" r="2.2" fill="#353535"/><circle cx="342.0" cy="154.3" r="2.6" fill="#555555"/><circle cx="341.3" cy="162.8" r="1.5" fill="#272727"/><circle cx="342.0" cy="128.9" r="1.7" fill="#1d1d1d"/><circle cx="349.4" cy="151.6" r="1.9" fill="#222222"/><circle cx="344.5" cy="163.3" r="1.6" fill="#191919"/><circle cx="358.1" cy="134.1" r="1.9" fill="#3e3e3e"/><circle cx="348.9" cy="147.7" r="2.3" fill="#464646"/><circle cx="352.4" cy="158.9" r="1.7" fill="#484848"/><circle cx="341.0" cy="138.1" r="2.5" fill="#565656"/><circle cx="349.4" cy="162.8" r="1.6" fill="#191919"/><circle cx="348.3" cy="163.9" r="1.5" fill="#2b2b2b"/><circle cx="355.7" cy="142.8" r="1.6" fill="#494949"/><circle cx="360.1" cy="155.4" r="1.8" fill="#3f3f3f"/><circle cx="352.3" cy="135.0" r="1.8" fill="#404040"/><circle cx="346.6" cy="142.6" r="2.1" fill="#282828"/><circle cx="351.2" cy="142.8" r="1.4" fill="#3c3c3c"/><circle cx="355.5" cy="160.4" r="1.5" fill="#3d3d3d"/><circle cx="360.7" cy="142.5" r="1.0" fill="#282828"/><circle cx="339.6" cy="133.2" r="2.0" fill="#444444"/><circle cx="349.4" cy="152.6" r="1.1" fill="#292929"/><circle cx="345.1" cy="141.6" r="2.4" fill="#262626"/></g><g opacity="0.40"><circle cx="355.3" cy="132.2" r="0.8" fill="#828282"/><circle cx="366.2" cy="135.0" r="0.9" fill="#838383"/><circle cx="352.2" cy="145.6" r="0.8" fill="#adadad"/><circle cx="358.7" cy="153.4" r="0.9" fill="#b0b0b0"/><circle cx="371.0" cy="135.8" r="1.0" fill="#878787"/><circle cx="352.0" cy="131.6" r="0.8" fill="#aeaeae"/><circle cx="342.7" cy="150.3" r="0.8" fill="#949494"/><circle cx="336.1" cy="163.3" r="1.2" fill="#b6b6b6"/><circle cx="349.8" cy="164.7" r="0.8" fill="#bcbcbc"/><circle cx="344.8" cy="140.3" r="1.1" fill="#989898"/><circle cx="338.0" cy="162.2" r="0.8" fill="#a3a3a3"/><circle cx="360.7" cy="132.5" r="0.8" fill="#b0b0b0"/><circle cx="355.2" cy="126.2" r="1.3" fill="#8f8f8f"/><circle cx="342.3" cy="127.7" r="0.9" fill="#ababab"/><circle cx="347.5" cy="137.8" r="0.9" fill="#9a9a9a"/><circle cx="363.8" cy="143.2" r="1.0" fill="#8d8d8d"/><circle cx="366.7" cy="138.8" r="0.9" fill="#9e9e9e"/><circle cx="353.6" cy="159.8" r="0.8" fill="#b4b4b4"/><circle cx="352.7" cy="134.2" r="1.0" fill="#b6b6b6"/><circle cx="337.9" cy="155.7" r="1.0" fill="#939393"/></g></g></g>
<g clip-path="url(#r3)"><ellipse cx="388" cy="147" rx="9" ry="11" fill="#2c2c2c" filter="url(#b2)" opacity="0.9"/></g>
<g filter="url(#b05)"><g opacity="0.35"><circle cx="394.3" cy="123.7" r="1.1" fill="#484848"/><circle cx="393.3" cy="132.3" r="2.2" fill="#1c1c1c"/><circle cx="388.8" cy="155.5" r="1.3" fill="#303030"/><circle cx="382.0" cy="149.9" r="1.5" fill="#2a2a2a"/><circle cx="379.4" cy="136.6" r="1.3" fill="#2d2d2d"/><circle cx="393.5" cy="142.5" r="1.8" fill="#272727"/><circle cx="391.9" cy="141.7" r="1.8" fill="#363636"/><circle cx="382.5" cy="144.7" r="1.9" fill="#454545"/><circle cx="383.3" cy="155.7" r="1.7" fill="#1d1d1d"/><circle cx="393.9" cy="124.0" r="1.7" fill="#212121"/><circle cx="387.4" cy="152.7" r="2.0" fill="#4f4f4f"/><circle cx="381.0" cy="141.9" r="1.1" fill="#4f4f4f"/><circle cx="384.6" cy="154.8" r="1.4" fill="#3c3c3c"/><circle cx="393.5" cy="132.0" r="2.3" fill="#3b3b3b"/><circle cx="382.3" cy="132.1" r="1.2" fill="#2c2c2c"/><circle cx="387.7" cy="137.8" r="1.5" fill="#373737"/><circle cx="393.2" cy="153.2" r="1.2" fill="#373737"/><circle cx="388.7" cy="137.9" r="2.2" fill="#191919"/><circle cx="393.6" cy="151.1" r="1.1" fill="#2b2b2b"/><circle cx="380.4" cy="154.2" r="1.7" fill="#3d3d3d"/><circle cx="394.5" cy="124.9" r="1.7" fill="#1c1c1c"/><circle cx="379.9" cy="151.6" r="2.0" fill="#353535"/><circle cx="388.1" cy="137.5" r="1.1" fill="#2f2f2f"/><circle cx="393.7" cy="134.6" r="1.4" fill="#353535"/><circle cx="391.5" cy="153.3" r="2.2" fill="#505050"/></g><g opacity="0.35"><circle cx="367.3" cy="117.4" r="1.3" fill="#8f8f8f"/><circle cx="382.5" cy="113.2" r="1.0" fill="#767676"/><circle cx="364.7" cy="114.9" r="2.1" fill="#6c6c6c"/><circle cx="377.7" cy="109.4" r="2.1" fill="#767676"/><circle cx="386.7" cy="120.7" r="1.6" fill="#5d5d5d"/><circle cx="377.6" cy="121.3" r="1.9" fill="#767676"/><circle cx="367.3" cy="116.4" r="1.4" fill="#656565"/><circle cx="370.0" cy="120.3" r="1.4" fill="#a2a2a2"/><circle cx="387.7" cy="122.8" r="1.4" fill="#9c9c9c"/><circle cx="372.9" cy="114.4" r="1.6" fill="#828282"/><circle cx="383.2" cy="109.2" r="1.0" fill="#989898"/><circle cx="388.1" cy="121.2" r="1.5" fill="#696969"/><circle cx="378.2" cy="117.7" r="2.2" fill="#5c5c5c"/><circle cx="382.3" cy="125.1" r="1.0" fill="#898989"/><circle cx="377.8" cy="117.4" r="1.3" fill="#636363"/><circle cx="356.0" cy="110.6" r="1.3" fill="#696969"/><circle cx="368.7" cy="109.8" r="1.9" fill="#686868"/><circle cx="381.7" cy="113.2" r="1.0" fill="#a4a4a4"/><circle cx="374.4" cy="125.1" r="1.8" fill="#676767"/><circle cx="363.2" cy="116.1" r="1.6" fill="#8d8d8d"/><circle cx="383.3" cy="117.1" r="1.1" fill="#5e5e5e"/><circle cx="382.3" cy="116.5" r="2.1" fill="#7a7a7a"/><circle cx="373.4" cy="110.8" r="1.1" fill="#757575"/><circle cx="379.1" cy="114.0" r="1.5" fill="#949494"/><circle cx="388.1" cy="113.2" r="2.1" fill="#6a6a6a"/></g></g>
<path d="M371.5 146 Q374 155 383 163" stroke="#e6e6e6" stroke-width="2.4" fill="none" filter="url(#b1)"/>
<ellipse cx="373" cy="151" rx="2.5" ry="4" fill="#e8e8e8" filter="url(#b1)"/>
<rect x="323.8" y="110.0" width="68.8" height="64.6" fill="#000" filter="url(#noise)" opacity="0.21"/>
<rect x="323.8" y="110.0" width="68.8" height="64.6" fill="#fff" filter="url(#noisew)" opacity="0.21"/>
</g>
<clipPath id="m3"><polygon points="346.8,120.0 349.0,119.5 352.0,121.5 355.0,122.0 359.0,119.8 362.0,120.0 366.7,124.0 370.0,128.0 373.8,132.8 377.8,139.2 375.4,143.0 370.6,143.5 369.8,148.0 368.2,154.5 364.3,159.2 357.0,163.2 348.4,168.0 340.5,167.2 335.7,164.0 334.1,156.0 334.9,147.0 337.3,137.6 340.5,128.0"/></clipPath>
<rect x="214.2" y="68.3" width="31.8" height="3" fill="#000"/>
<text x="214.5" y="67.2" font-size="12.5" style="fill:#fff;stroke:#fff;stroke-width:0.1px">20nm</text>
<rect x="289.1" y="114.2" width="27.6" height="2.7" fill="#000"/>
<text x="288.9" y="112.8" font-size="11.8" style="fill:#fff;stroke:#fff;stroke-width:0.1px">20nm</text>
<rect x="362" y="170.2" width="29" height="2.7" fill="#000"/>
<text x="362.3" y="169.1" font-size="12.2" style="fill:#fff;stroke:#fff;stroke-width:0.1px">20nm</text>
<polygon points="144.90,48.20 139.78,54.70 142.65,53.88 159.87,211.31 165.53,210.69 148.32,53.26 151.31,53.43" fill="url(#g1)"/>
<polygon points="257.10,2.50 258.74,10.11 259.32,8.33 385.59,93.19 388.83,88.37 262.56,3.52 264.76,1.14" fill="url(#g2)"/>
<text x="310.5" y="19.6" font-size="11.3" style="stroke-width:0.12px">Surface-area-to-</text>
<text x="310.5" y="33" font-size="11.3" style="stroke-width:0.12px">volume ratio</text>
<g fill="none" stroke="#949494" stroke-width="0.65">
<path d="M140.50 23.50 C142.50 25.96 148.54 29.79 152.50 38.25 C156.46 46.71 160.29 63.58 164.25 74.25 C168.21 84.92 172.33 94.33 176.25 102.25 C180.17 110.17 183.88 116.29 187.75 121.75 C191.62 127.21 195.54 130.42 199.50 135.00 C203.46 139.58 207.58 145.48 211.50 149.25 C215.42 153.02 219.08 155.18 223.00 157.60 C226.92 160.02 229.62 161.27 235.00 163.75 C240.38 166.23 246.92 169.29 255.25 172.50 C263.58 175.71 275.17 180.29 285.00 183.00 C294.83 185.71 304.46 186.79 314.25 188.75 C324.04 190.71 336.34 193.31 343.75 194.75 C351.16 196.19 356.21 196.96 358.70 197.40"/>
<path d="M137.75 211.25 C138.96 210.92 142.54 212.59 145.00 209.25 C147.46 205.91 150.29 195.37 152.50 191.20 C154.71 187.03 156.08 185.41 158.25 184.25 C160.42 183.09 162.50 185.12 165.50 184.25 C168.50 183.38 172.50 179.29 176.25 179.00 C180.00 178.71 184.12 180.75 188.00 182.50 C191.88 184.25 195.58 188.79 199.50 189.50 C203.42 190.21 207.58 186.90 211.50 186.75 C215.42 186.60 219.08 188.14 223.00 188.60 C226.92 189.06 229.62 188.35 235.00 189.50 C240.38 190.65 246.92 194.04 255.25 195.50 C263.58 196.96 275.17 197.71 285.00 198.25 C294.83 198.79 304.46 198.25 314.25 198.75 C324.04 199.25 336.34 200.64 343.75 201.25 C351.16 201.86 356.21 202.21 358.70 202.40"/>
<path d="M137.50 176.75 C138.54 175.54 141.25 172.62 143.75 169.50 C146.25 166.38 149.04 159.50 152.50 158.00 C155.96 156.50 160.54 158.96 164.50 160.50 C168.46 162.04 172.33 163.92 176.25 167.25 C180.17 170.58 183.08 177.00 188.00 180.50 C192.92 184.00 198.90 186.73 205.75 188.25 C212.60 189.77 220.85 188.10 229.10 189.60 C237.35 191.10 245.93 195.47 255.25 197.25 C264.57 199.03 275.17 199.62 285.00 200.25 C294.83 200.88 304.46 200.42 314.25 201.00 C324.04 201.58 336.34 202.98 343.75 203.75 C351.16 204.52 356.21 205.29 358.70 205.60"/>
</g>
<g fill="#fff" stroke="#a6a6f0" stroke-width="0.9">
<circle cx="140.50" cy="23.50" r="3"/>
<circle cx="152.50" cy="38.25" r="3"/>
<circle cx="164.25" cy="74.25" r="3"/>
<circle cx="176.25" cy="102.25" r="3"/>
<circle cx="187.75" cy="121.75" r="3"/>
<circle cx="199.50" cy="135.00" r="3"/>
<circle cx="211.50" cy="149.25" r="3"/>
<circle cx="223.00" cy="157.60" r="3"/>
<circle cx="235.00" cy="163.75" r="3"/>
<circle cx="255.25" cy="172.50" r="3"/>
<circle cx="285.00" cy="183.00" r="3"/>
<circle cx="314.25" cy="188.75" r="3"/>
<circle cx="343.75" cy="194.75" r="3"/>
</g>
<g fill="#c00000">
<circle cx="137.75" cy="211.25" r="3.2"/>
<circle cx="145.00" cy="209.25" r="3.2"/>
<circle cx="152.50" cy="191.20" r="3.2"/>
<circle cx="158.25" cy="184.25" r="3.2"/>
<circle cx="165.50" cy="184.25" r="3.2"/>
<circle cx="176.25" cy="179.00" r="3.2"/>
<circle cx="188.00" cy="182.50" r="3.2"/>
<circle cx="199.50" cy="189.50" r="3.2"/>
<circle cx="211.50" cy="186.75" r="3.2"/>
<circle cx="223.00" cy="188.60" r="3.2"/>
<circle cx="235.00" cy="189.50" r="3.2"/>
<circle cx="255.25" cy="195.50" r="3.2"/>
<circle cx="285.00" cy="198.25" r="3.2"/>
<circle cx="314.25" cy="198.75" r="3.2"/>
<circle cx="343.75" cy="201.25" r="3.2"/>
</g>
<g fill="#0000d8">
<rect x="134.80" y="174.05" width="5.4" height="5.4"/>
<rect x="141.05" y="166.80" width="5.4" height="5.4"/>
<rect x="149.80" y="155.30" width="5.4" height="5.4"/>
<rect x="161.80" y="157.80" width="5.4" height="5.4"/>
<rect x="173.55" y="164.55" width="5.4" height="5.4"/>
<rect x="185.30" y="177.80" width="5.4" height="5.4"/>
<rect x="203.05" y="185.55" width="5.4" height="5.4"/>
<rect x="226.40" y="186.90" width="5.4" height="5.4"/>
<rect x="252.55" y="194.55" width="5.4" height="5.4"/>
<rect x="282.30" y="197.55" width="5.4" height="5.4"/>
<rect x="311.55" y="198.30" width="5.4" height="5.4"/>
<rect x="341.05" y="201.05" width="5.4" height="5.4"/>
</g>
</svg></body></html>
